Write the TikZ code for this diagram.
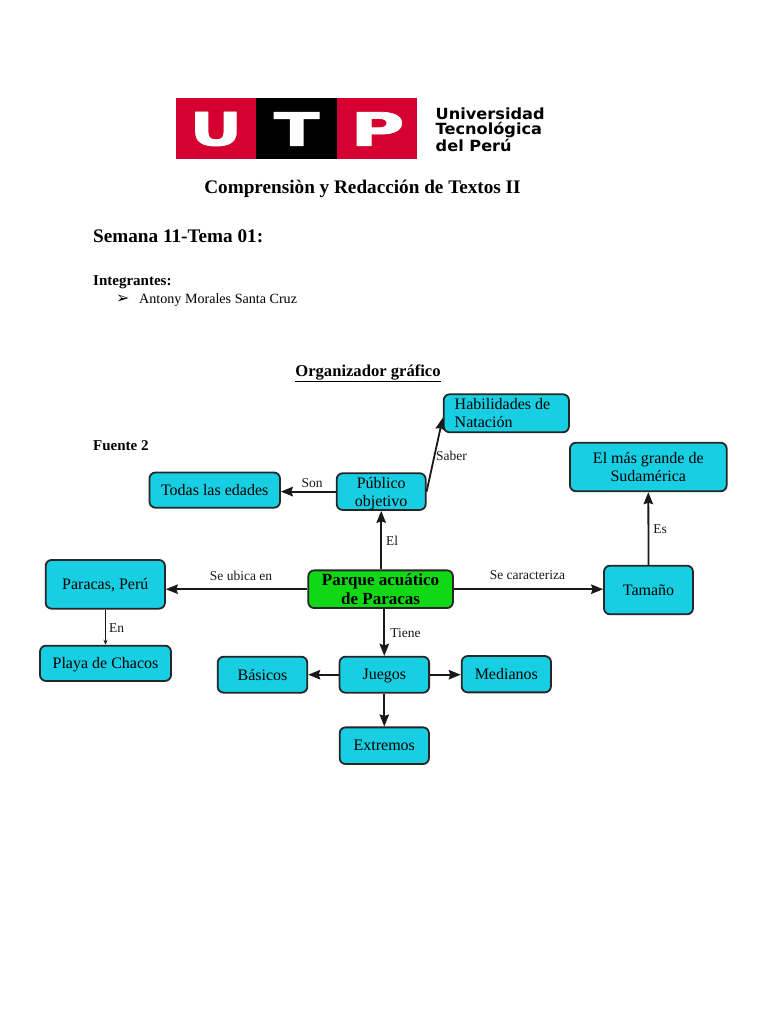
\documentclass[tikz,border=0pt]{standalone}
\usepackage{fontspec}
\setmainfont{Liberation Serif}
\newfontfamily\logofont{DejaVu Sans}
\newfontfamily\letrafont{DejaVu Sans Bold}[FakeBold=1.6]
\usetikzlibrary{arrows.meta,positioning}
\definecolor{cajacol}{RGB}{24,206,226}
\definecolor{centrocol}{RGB}{16,216,20}
\definecolor{utprojo}{RGB}{214,0,48}
\newcommand{\tam}[1]{\fontsize{#1}{#1}\selectfont}
\tikzset{
  caja/.style={draw=black!85,line width=1.8pt,rounded corners=6pt,fill=cajacol,inner sep=0pt,
    align=center,text depth=0pt,font=\fontsize{16}{18}\selectfont},
  flecha/.style={-{Stealth[length=12pt,width=9.5pt,inset=1.5pt]},line width=1.8pt,black!90},
  rotulo/.style={inner sep=0pt,font=\tam{13.5},text=black!90},
  negrita/.style={inner sep=0pt,anchor=west,font=\bfseries\tam{15}},
  letra/.style={inner sep=0pt,text=white,font=\letrafont\tam{46}}
}

\begin{document}
\begin{tikzpicture}[x=1pt,y=-1pt,>=Stealth]
  \useasboundingbox[fill=white] (0,0) rectangle (768,1024);
  % ---------------- logo ----------------
  \fill[utprojo] (175.5,98.3) rectangle (256,158.7);
  \fill[black] (256,98.3) rectangle (336.7,158.7);
  \fill[utprojo] (336.7,98.3) rectangle (417,158.7);
  \node[letra,xscale=1.4] (letrau) at (216,129) {U};
  \node[letra,xscale=1.45] (letrat) at (296.7,129) {T};
  \node[letra,xscale=1.6] (letrap) at (377.5,129) {P};
  \node[inner sep=0pt,anchor=north west,align=left,xscale=1.05,font=\logofont\bfseries\fontsize{15.4}{14.6}\selectfont]
    (marca) at (435.5,108) {Universidad\\Tecnológica\\del Perú};
  % ---------------- encabezado ----------------
  \node[inner sep=0pt,font=\bfseries\tam{19.2}] (titulo) at (362.5,188.5) {Comprensiòn y Redacción de Textos II};
  \node[negrita,font=\bfseries\tam{19.2}] (semana) at (93,236) {Semana 11-Tema 01:};
  \node[negrita] (integrantes) at (93,282) {Integrantes:};
  \node[inner sep=0pt,anchor=west,font=\logofont\tam{16}] (vineta) at (116,299) {➢};
  \node[inner sep=0pt,anchor=west,font=\tam{14.1}] (nombre) at (139,300) {Antony Morales Santa Cruz};
  \node[inner sep=0pt,font=\bfseries\tam{16.6}] (organizador) at (368,373.5) {\underline{Organizador gráfico}};
  \node[negrita] (fuente) at (93,446) {Fuente 2};
  % ---------------- cajas ----------------
  \node[caja,minimum width=144.7pt,minimum height=37.7pt,fill=centrocol,font=\bfseries\fontsize{17}{19}\selectfont]
    (parque) at (380.6,589.2) {Parque acuático\\de Paracas};
  \node[caja,minimum width=89pt,minimum height=36.7pt] (publico) at (381.2,491.6) {Público\\objetivo};
  \node[caja,minimum width=130.5pt,minimum height=35.2pt] (todas) at (214.7,490.1) {Todas las edades};
  \node[caja,minimum width=125.3pt,minimum height=38pt,align=left] (habilidades) at (506.3,413.3) {Habilidades de\hspace*{7.6pt}\\Natación};
  \node[caja,minimum width=156.7pt,minimum height=48.6pt] (grande) at (648.3,467) {El más grande de\\Sudamérica};
  \node[caja,minimum width=119.3pt,minimum height=48.7pt] (paracas) at (105.3,584.3) {Paracas, Perú};
  \node[caja,minimum width=131pt,minimum height=35.3pt] (playa) at (105.5,663.3) {Playa de Chacos};
  \node[caja,minimum width=89pt,minimum height=48.6pt] (tamano) at (648.5,590) {Tamaño};
  \node[caja,minimum width=89.6pt,minimum height=36pt] (juegos) at (384.3,674.7) {Juegos};
  \node[caja,minimum width=89.6pt,minimum height=36pt] (basicos) at (262.5,674.7) {Básicos};
  \node[caja,minimum width=89.3pt,minimum height=36.3pt] (medianos) at (506.3,674.2) {Medianos};
  \node[caja,minimum width=89.3pt,minimum height=36.7pt] (extremos) at (384.3,745.7) {Extremos};
  % ---------------- flechas ----------------
  \draw[flecha] (publico.west) -- (publico.west -| todas.east);
  \draw[flecha] (parque.north -| publico) -- (publico.south);
  \draw[flecha] (publico.east) -- (habilidades.184);
  \draw[flecha] (parque.west) -- (parque.west -| paracas.east);
  \draw[flecha,line width=0.9pt,-{Stealth[length=5pt,width=4pt]}] (paracas.south -| playa) -- (playa.north);
  \draw[flecha] (parque.south -| juegos) -- (juegos.north);
  \draw[flecha] (parque.east) -- (parque.east -| tamano.west);
  \draw[flecha] (tamano.north) -- (grande.south);
  \draw[flecha] (juegos.west) -- (basicos.east);
  \draw[flecha] (juegos.east) -- (juegos.east -| medianos.west);
  \draw[flecha] (juegos.south) -- (extremos.north);
  % ---------------- rotulos ----------------
  \node[rotulo] (son) at (312,483.5) {Son};
  \node[rotulo] (el) at (392,540.5) {El};
  \node[rotulo] (saber) at (451.5,455.5) {Saber};
  \node[rotulo] (ubica) at (241,575.5) {Se ubica en};
  \node[rotulo] (en) at (116.5,628.5) {En};
  \node[rotulo] (caracteriza) at (527.5,575) {Se caracteriza};
  \node[rotulo] (es) at (660,529.5) {Es};
  \node[rotulo] (tiene) at (405.5,633.5) {Tiene};
\end{tikzpicture}
\end{document}
